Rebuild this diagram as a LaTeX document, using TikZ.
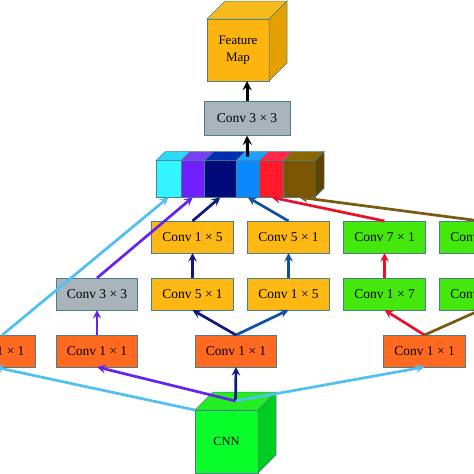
\documentclass[tikz,border=0pt]{standalone}
\usepackage{fontspec}
\setmainfont{Liberation Serif}
\usetikzlibrary{arrows,calc,chains,positioning}

\definecolor{edge}{HTML}{4A7F90}
\definecolor{orangebox}{HTML}{FF6A20}
\definecolor{goldbox}{HTML}{FDB813}
\definecolor{greenbox}{HTML}{44E80C}
\definecolor{graybox}{HTML}{A8B4BA}
\definecolor{fmfront}{HTML}{FDB40F}
\definecolor{fmtop}{HTML}{F7BC1C}
\definecolor{fmside}{HTML}{E3A000}
\definecolor{cnnfront}{HTML}{0AFF2A}
\definecolor{cnntop}{HTML}{22EE22}
\definecolor{cnnside}{HTML}{00CC22}
\definecolor{catcyan}{HTML}{33F5FF}
\definecolor{catpurple}{HTML}{7020FF}
\definecolor{catnavy}{HTML}{000A78}
\definecolor{catblue}{HTML}{0A88FF}
\definecolor{catred}{HTML}{FF1A2A}
\definecolor{catbrown}{HTML}{7A5600}
\definecolor{topcyan}{HTML}{30D8F8}
\definecolor{toppurple}{HTML}{7A40F0}
\definecolor{topnavy}{HTML}{0030B0}
\definecolor{topblue}{HTML}{20A0FF}
\definecolor{topred}{HTML}{FF2848}
\definecolor{topbrown}{HTML}{8A6800}
\definecolor{sidebrown}{HTML}{5E4400}
\definecolor{arrcyan}{HTML}{50C0F0}
\definecolor{arrpurple}{HTML}{6622EE}
\definecolor{arrnavy}{HTML}{101880}
\definecolor{arrblue}{HTML}{1450A0}
\definecolor{arrred}{HTML}{E8102A}
\definecolor{arrbrown}{HTML}{7A5A10}

\begin{document}
\begin{tikzpicture}
    [x=1pt, y=-1pt, >=stealth,
    conv/.style={rectangle, draw=edge, line width=0.7pt, inner sep=0pt,
      outer sep=0pt, minimum width=81.5pt, minimum height=32pt,
      font=\fontsize{13.5}{15}\selectfont},
    slab/.style={rectangle, draw=edge, line width=0.5pt, inner sep=0pt,
      outer sep=0pt, minimum height=36.6pt},
    cube/.style={rectangle, draw=edge, line width=0.6pt, inner sep=0pt,
      outer sep=0pt, minimum width=62pt, minimum height=62pt, align=center},
    face/.style={draw=edge, line width=0.5pt},
    link/.style={->, line width=2.7pt}]

  \useasboundingbox (0,0) rectangle (474,474);
  \clip (0,0) rectangle (474,474);

  % input and output cubes
  \node[cube, fill=fmfront, font=\fontsize{13}{17}\selectfont] (fm) at (238,50) {Feature\\Map};
  \filldraw[face, fill=fmtop] (fm.north west) -- ++(18,-18) -- ++(62,0) -- (fm.north east) -- cycle;
  \filldraw[face, fill=fmside] (fm.north east) -- ++(18,-18) -- ++(0,62) -- (fm.south east) -- cycle;

  \node[cube, fill=cnnfront, minimum width=63pt, minimum height=63pt,
    font=\fontsize{12.5}{14}\selectfont] (cnn) at (226.5,441.5) {CNN};
  \filldraw[face, fill=cnntop] (cnn.north west) -- ++(18,-18) -- ++(63,0) -- (cnn.north east) -- cycle;
  \filldraw[face, fill=cnnside] (cnn.north east) -- ++(18,-18) -- ++(0,63) -- (cnn.south east) -- cycle;
  \coordinate (cnn_top) at ($(cnn.north)+(9,-9)$);

  % concatenation
  \begin{scope}[start chain=cat going right, node distance=0pt]
    \node[slab, on chain, fill=catcyan, minimum width=25pt] (cat_1) at (168.5,179) {};
    \node[slab, on chain, fill=catpurple, minimum width=23.5pt] (cat_2) {};
    \node[slab, on chain, fill=catnavy, minimum width=31.5pt] (cat_3) {};
    \node[slab, on chain, fill=catblue, minimum width=23.5pt] (cat_4) {};
    \node[slab, on chain, fill=catred, minimum width=24pt] (cat_5) {};
    \node[slab, on chain, fill=catbrown, minimum width=31.5pt] (cat_6) {};
  \end{scope}
  \foreach \n/\c in {1/topcyan,2/toppurple,3/topnavy,4/topblue,5/topred,6/topbrown}
    \filldraw[face, fill=\c] (cat_\n.north west) -- ++(9,-9)
      -- ($(cat_\n.north east)+(9,-9)$) -- (cat_\n.north east) -- cycle;
  \filldraw[face, fill=sidebrown] (cat_6.north east) -- ++(9,-9) -- ++(0,36.6) -- (cat_6.south east) -- cycle;

  \node[conv, fill=graybox, minimum width=86pt, minimum height=34.7pt] (c33) at (247,118.3) {Conv 3 × 3};

  % 1x1 row
  \node[conv, fill=orangebox] (one_a) at (-5.75,351) {Conv 1 × 1};
  \node[conv, fill=orangebox] (one_b) at (97,351) {Conv 1 × 1};
  \node[conv, fill=orangebox] (one_c) at (236,351) {Conv 1 × 1};
  \node[conv, fill=orangebox] (one_d) at (424.5,351) {Conv 1 × 1};

  \node[conv, fill=graybox, above=25pt of one_b] (g33) {Conv 3 × 3};

  % factorised branches
  \begin{scope}[start chain=mid going right, node distance=14.5pt]
    \node[conv, on chain, fill=goldbox] (mid_a) at (192.5,294) {Conv 5 × 1};
    \node[conv, on chain, fill=goldbox] (mid_b) {Conv 1 × 5};
    \node[conv, on chain, fill=greenbox] (mid_c) {Conv 1 × 7};
    \node[conv, on chain, fill=greenbox] (mid_d) {Conv 7 × 1};
  \end{scope}
  \node[conv, fill=goldbox, above=25pt of mid_a] (up_a) {Conv 1 × 5};
  \node[conv, fill=goldbox, above=25pt of mid_b] (up_b) {Conv 5 × 1};
  \node[conv, fill=greenbox, above=25pt of mid_c] (up_c) {Conv 7 × 1};
  \node[conv, fill=greenbox, above=25pt of mid_d] (up_d) {Conv 1 × 7};

  % links
  \draw[link, arrcyan] (cnn.north west) -- (one_a.south);
  \draw[link, arrpurple] (cnn_top) -- (one_b.south);
  \draw[link, arrnavy] (cnn_top) -- (one_c.south);
  \draw[link, arrcyan] (cnn_top) -- (one_d.south);

  \draw[link, arrpurple] (one_b) -- (g33);
  \draw[link, arrnavy] (one_c.north) -- (mid_a.south);
  \draw[link, arrblue] (one_c.north) -- (mid_b.south);
  \draw[link, arrred] (one_d.north) -- (mid_c.south);
  \draw[link, arrbrown] (one_d.north) -- (mid_d.south);

  \draw[link, arrnavy] (mid_a) -- (up_a);
  \draw[link, arrblue] (mid_b) -- (up_b);
  \draw[link, arrred] (mid_c) -- (up_c);
  \draw[link, arrbrown] (mid_d) -- (up_d);

  \draw[link, arrcyan] ($(one_a.north)+(8,0)$) -- (cat_1.south);
  \draw[link, arrpurple] (g33.north) -- (cat_2.south);
  \draw[link, arrnavy] (up_a.north) -- (cat_3.south);
  \draw[link, arrblue] (up_b.north) -- (cat_4.south);
  \draw[link, arrred] (up_c.north) -- (cat_5.south);
  \draw[link, arrbrown] (up_d.north) -- (cat_6.south);

  \draw[link, line width=3pt] ($(cat_4.north)+(0,-4)$) -- (c33.south);
  \draw[link, line width=3pt] (c33.north) -- (c33.north |- fm.south);

\end{tikzpicture}
\end{document}
